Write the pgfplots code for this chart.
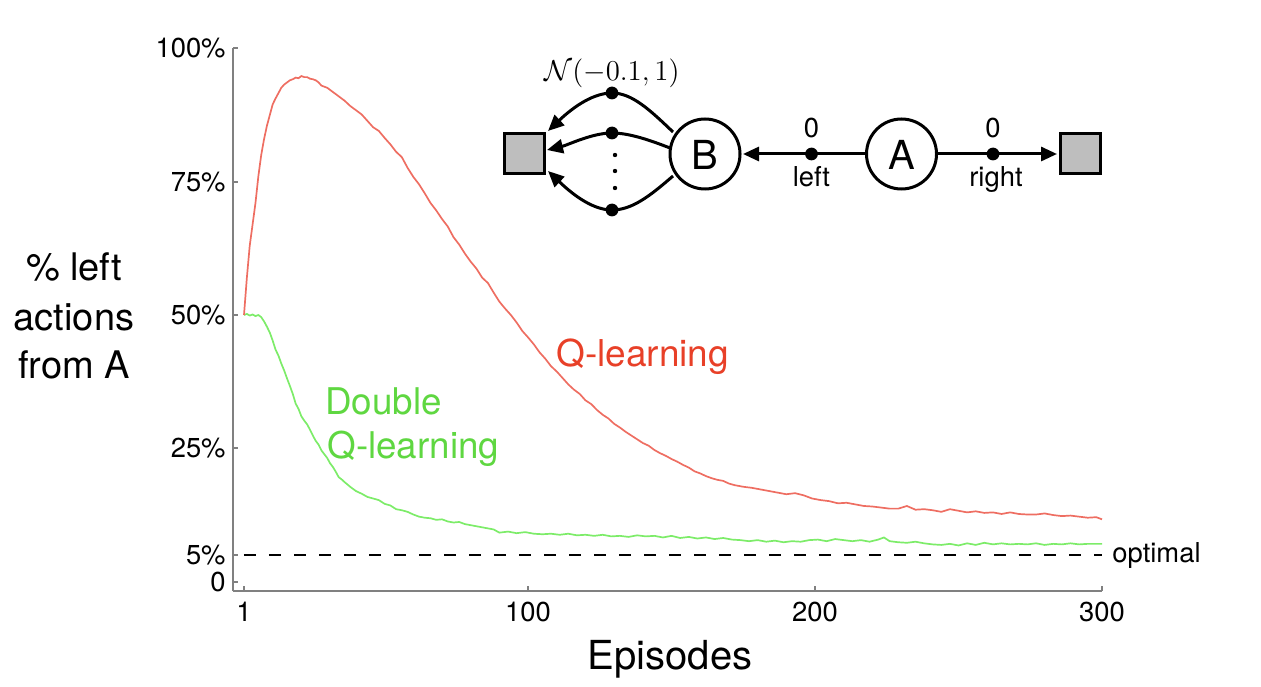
\documentclass[border=0pt]{standalone}
\usepackage[no-math]{fontspec}
\setmainfont{TeX Gyre Heros}
\usepackage{pgfplots}
\usepackage{pgfplotstable}
\pgfplotsset{compat=1.18}
\usetikzlibrary{arrows.meta}
\definecolor{qline}{RGB}{238,110,98}
\definecolor{qtext}{RGB}{232,64,40}
\definecolor{dline}{RGB}{125,236,105}
\definecolor{dtext}{RGB}{95,215,65}
\definecolor{boxgray}{RGB}{190,190,190}
\definecolor{axgray}{RGB}{128,128,128}

\pgfplotstableread{
ep val
1 50
2 57
3 63
4 67
5 71
6 76
7 80
8 83
9 85.5
10 87.5
11 89.5
12 90.6
13 91.6
14 92.6
15 93.2
16 93.6
17 94.0
18 94.2
19 94.5
20 94.4
21 94.8
22 94.6
23 94.6
24 94.3
25 94.2
26 94.0
27 93.6
28 93.0
30 92.6
32 91.8
34 91.0
36 90.2
38 89.2
40 88.4
42 87.6
44 86.4
46 85.2
48 84.5
50 83.2
52 82.0
54 80.6
56 79.6
58 77.6
60 75.9
62 74.5
64 72.8
66 71.0
68 69.6
70 68.0
72 66.6
74 64.6
76 63.2
78 61.5
80 60.0
82 58.7
84 57.0
86 56.0
88 54.2
90 52.5
92 51.2
94 50.0
96 48.6
98 47.0
100 45.8
102 44.5
104 43.0
106 41.8
108 40.4
110 39.4
112 38.2
114 37.0
116 36.0
118 35.2
120 34.0
122 33.3
124 32.2
126 31.3
128 30.6
130 29.6
132 28.9
134 28.1
136 27.4
138 26.7
140 26.0
142 25.5
144 24.7
146 24.1
148 23.6
150 23.0
152 22.5
154 21.9
156 21.4
158 20.7
160 20.3
162 19.8
164 19.4
166 19.1
168 18.9
170 18.4
172 18.1
175 17.8
178 17.6
181 17.3
184 17.0
187 16.7
190 16.4
193 16.6
196 16.2
199 15.6
202 15.3
205 15.1
208 14.7
211 14.8
214 14.5
217 14.2
220 14.1
223 13.9
226 13.7
229 13.7
232 14.2
235 13.5
238 13.6
241 13.4
244 13.1
247 13.6
250 13.3
253 13.0
256 13.2
259 12.9
262 13.0
265 12.7
268 13.0
271 12.7
274 12.6
277 12.6
280 12.8
283 12.5
286 12.3
289 12.4
292 12.2
295 12.0
298 12.1
300 11.7
}\qdata

\pgfplotstableread{
ep val
1 50
2 50.2
3 49.9
4 50.1
5 49.8
6 50.0
7 49.6
8 48.8
9 47.8
10 46.7
11 45.2
12 43.5
13 42.4
14 40.9
15 39.6
16 38.1
17 36.7
18 35.2
19 33.4
20 32.4
21 31.0
22 30.2
23 29.5
24 28.5
25 27.4
26 26.4
27 25.7
28 24.6
29 23.9
30 23.2
31 22.2
32 21.5
33 20.6
34 19.6
35 19.2
36 18.7
38 17.8
40 17.0
42 16.5
44 15.9
46 15.6
48 15.3
50 14.6
52 14.3
54 13.6
56 13.4
58 13.1
60 12.6
62 12.2
64 12.0
66 11.9
68 11.6
70 11.7
72 11.3
74 11.1
76 11.2
78 10.8
80 10.6
82 10.4
84 10.2
86 10.0
88 9.8
90 9.2
93 9.4
96 9.1
99 9.3
102 9.0
105 8.9
108 9.0
111 8.8
114 9.0
117 8.7
120 8.8
123 8.6
126 8.8
129 8.5
132 8.6
135 8.4
138 8.7
141 8.5
144 8.6
147 8.3
150 8.6
153 8.2
156 8.4
159 8.1
162 8.3
165 8.0
168 8.2
171 7.9
174 7.8
177 7.6
180 7.8
183 7.5
186 7.7
189 7.4
192 7.6
195 7.5
198 7.8
201 7.9
204 7.6
207 8.0
210 7.8
213 7.6
216 7.8
219 7.5
222 7.9
224 8.3
226 7.6
229 7.4
232 7.3
235 7.5
238 7.2
241 7.0
244 6.9
247 7.1
250 6.8
253 7.2
256 6.9
259 7.3
262 7.0
265 7.2
268 7.0
271 7.1
274 7.0
277 7.2
280 6.9
283 7.1
286 7.0
289 7.2
292 7.0
295 7.1
298 7.1
300 7.1
}\ddata

\begin{document}
\begin{tikzpicture}
\begin{scope}[x=0.5pt,y=-0.5pt,shift={(-116.5pt,295.5pt)}]
\path[use as bounding box] (0,0) rectangle (1261,686);
\end{scope}

\begin{axis}[
  at={(0,0)}, anchor=south west,
  scale only axis, width=434.5pt, height=271.35pt,
  xmin=-2.833, xmax=300, ymin=-1.74, ymax=100,
  axis lines*=left,
  axis line style={draw=axgray, line width=1.1pt},
  tick align=inside, major tick length=2.5pt,
  tick style={draw=axgray, line width=1.1pt},
  xtick={1,100,200,300}, xticklabels={1,100,200,300},
  ytick={0,5,25,50,75,100},
  yticklabels={0,5\%,25\%,50\%,75\%,100\%},
  ticklabel style={font=\fontsize{13.7}{16}\selectfont},
  xticklabel style={anchor=north, inner sep=0pt, yshift=-5.5pt},
  yticklabel style={anchor=east, inner sep=0pt, xshift=-3.5pt},
  clip=false,
]
\addplot[black, line width=0.75pt, dash pattern=on 6pt off 6.5pt] coordinates {(1,5) (300,5)};
\addplot[dline, line width=0.85pt] table[x=ep, y=val] {\ddata};
\addplot[qline, line width=0.85pt] table[x=ep, y=val] {\qdata};
\end{axis}

\begin{scope}[x=0.5pt,y=-0.5pt,shift={(-116.5pt,295.5pt)}]
% labels
\node[anchor=base, font=\fontsize{19}{24}\selectfont] at (74,280) {\% left};
\node[anchor=base, font=\fontsize{19}{24}\selectfont] at (74,330) {actions};
\node[anchor=base, font=\fontsize{19}{24}\selectfont] at (74,378) {from A};
\node[anchor=base, font=\fontsize{20}{24}\selectfont] at (670,669) {Episodes};
\node[anchor=base west, font=\fontsize{13.7}{16}\selectfont, inner sep=0pt] at (1112,562) {optimal};
\node[anchor=base west, text=qtext, font=\fontsize{18.5}{22}\selectfont, inner sep=0pt] at (556,366) {Q-learning};
\node[anchor=base west, text=dtext, font=\fontsize{18.4}{22}\selectfont, inner sep=0pt] at (325,414) {Double};
\node[anchor=base west, text=dtext, font=\fontsize{18.4}{22}\selectfont, inner sep=0pt] at (327,458) {Q-learning};

% diagram
\draw[line width=1.5pt, fill=boxgray] (504,134) rectangle (544,174);
\draw[line width=1.5pt, fill=boxgray] (1060,134) rectangle (1100,174);
\draw[line width=1.5pt] (705,154) circle[radius=17.5pt];
\draw[line width=1.5pt] (901.5,154) circle[radius=17.5pt];
\node[font=\fontsize{20}{24}\selectfont] at (705,155) {B};
\node[font=\fontsize{20}{24}\selectfont] at (901.5,155) {A};

\draw[line width=1.5pt, -{Triangle[length=8pt,width=7pt]}] (866,154) -- (743,154);
\draw[line width=1.5pt, -{Triangle[length=8pt,width=7pt]}] (937,154) -- (1057,154);
\fill (811.5,154) circle[radius=3.2pt];
\fill (993,154) circle[radius=3.2pt];
\node[anchor=base, font=\fontsize{13.7}{16}\selectfont] at (811.5,138) {0};
\node[anchor=base, font=\fontsize{13.7}{16}\selectfont] at (993,138) {0};
\node[anchor=base, font=\fontsize{13.7}{16}\selectfont] at (811.5,187) {left};
\node[anchor=base, font=\fontsize{13.7}{16}\selectfont] at (996,187) {right};

% B branches
\draw[line width=1.5pt] (673,132) .. controls (650,110) and (632,93) .. (612,93);
\draw[line width=1.5pt, -{Triangle[length=8pt,width=7pt]}] (612,93) .. controls (590,93) and (568,112) .. (548,131);
\draw[line width=1.5pt] (670,148) .. controls (652,141) and (630,133) .. (612,133);
\draw[line width=1.5pt, -{Triangle[length=8pt,width=7pt]}] (612,133) .. controls (592,133) and (568,145) .. (547,150);
\draw[line width=1.5pt] (673,176) .. controls (650,196) and (632,210) .. (612,210);
\draw[line width=1.5pt, -{Triangle[length=8pt,width=7pt]}] (612,210) .. controls (590,210) and (568,190) .. (548,171);
\fill (612,93) circle[radius=3.2pt];
\fill (612,133) circle[radius=3.2pt];
\fill (612,210) circle[radius=3.2pt];
\fill (615,155) circle[radius=1.1pt];
\fill (615,171) circle[radius=1.1pt];
\fill (615,188) circle[radius=1.1pt];
\node[font=\fontsize{15}{18}\selectfont] at (612,73) {$\mathcal{N}(-0.1,1)$};
\end{scope}
\end{tikzpicture}
\end{document}
